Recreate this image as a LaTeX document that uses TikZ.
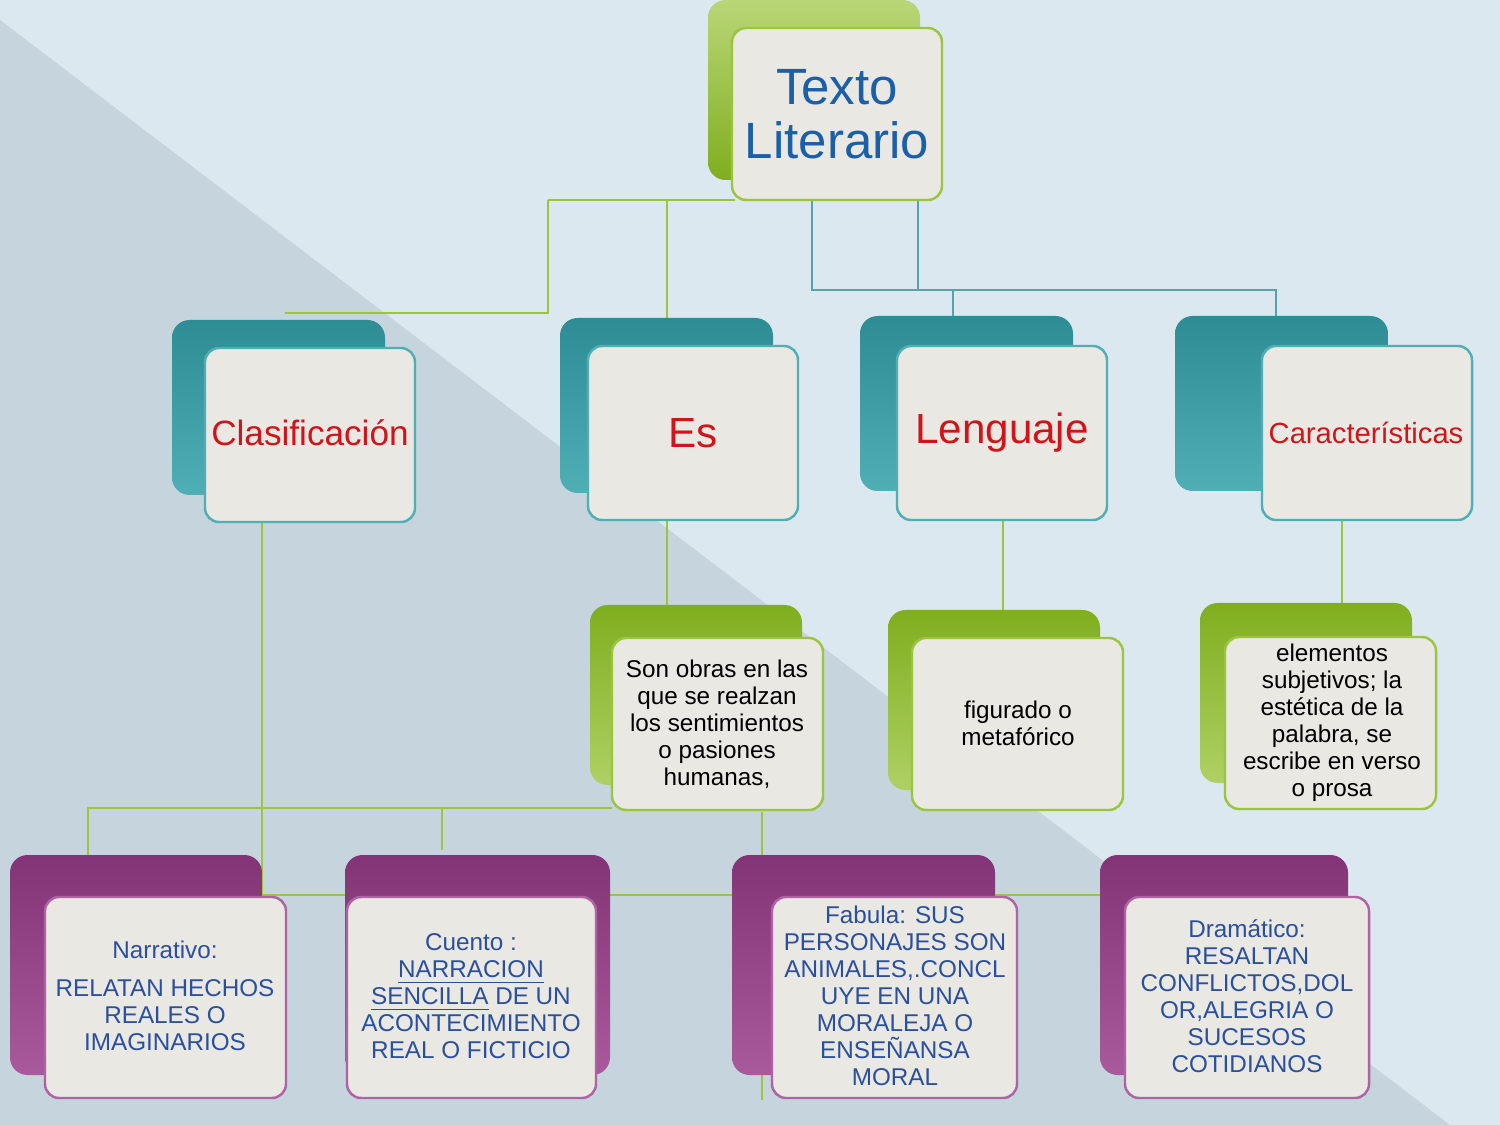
\documentclass[tikz,border=0pt]{standalone}
\usepackage{fontspec}
\setmainfont{Liberation Sans}
\newcommand{\myul}[1]{\underline{#1}}
\definecolor{bgA}{HTML}{DCE8F0}
\definecolor{bgB}{HTML}{C6D4DD}
\definecolor{gr}{HTML}{9BC53D}
\definecolor{grd}{HTML}{7FAE1E}
\definecolor{tl}{HTML}{2E8C94}
\definecolor{tll}{HTML}{4FAFB5}
\definecolor{pu}{HTML}{9A3D8C}
\definecolor{fr}{HTML}{E9E8E3}
\definecolor{tb}{HTML}{1A5FA8}
\definecolor{rd}{HTML}{D0141A}
\definecolor{bt}{HTML}{2A4F9C}
\tikzset{x=0.01cm,y=-0.01cm,
 backbox/.style={rounded corners=5pt,line width=0.3pt},
 frontbox/.style={fill=fr,rounded corners=4pt,line width=0.7pt},
 gline/.style={gr,line width=0.6pt},
 tline/.style={tl!80,line width=0.6pt},
 lbl/.style={align=center,inner sep=0pt},
 small/.style={font=\fontsize{6.9}{7.7}\selectfont}}
\begin{document}
\begin{tikzpicture}
\useasboundingbox (0,0) rectangle (1500,1125);
\fill[bgA] (0,0) rectangle (1500,1125);
\fill[bgB] (0,20) -- (1450,1125) -- (0,1125) -- cycle;
% connectors
\draw[gline] (548,200) -- (548,313) -- (285,313);
\draw[gline] (548,200) -- (735,200);
\draw[gline] (667,200) -- (667,346);
\draw[tline] (812,200) -- (812,290) -- (1276,290) -- (1276,346);
\draw[tline] (918,180) -- (918,290);
\draw[tline] (953,290) -- (953,346);
\draw[gline] (262,520) -- (262,897);
\draw[gline] (88,857) -- (88,808) -- (612,808);
\draw[gline] (442,808) -- (442,850);
\draw[gline] (762,812) -- (762,857);
\draw[gline] (262,895) -- (1125,895);
\draw[gline] (667,520) -- (667,605);
\draw[gline] (1003,520) -- (1003,610);
\draw[gline] (1342,520) -- (1342,603);
\draw[gline] (762,1075) -- (762,1100);
% top
\shade[backbox,top color=gr!70!white,bottom color=grd] (708,0) rectangle (920,180);
\draw[frontbox,draw=gr] (732,28) rectangle (942,200);
\node[lbl,text=tb,font=\fontsize{14.5}{15.5}\selectfont] at (837,114) {Texto\\Literario};
% row 2
\foreach \bx/\by/\fx/\fy in {172/320/205/348, 560/318/588/346, 860/316/897/346, 1175/316/1262/346}{
 \shade[backbox,top color=tl,bottom color=tll] (\bx,\by) rectangle (\bx+213,\by+175);
 \draw[frontbox,draw=tll] (\fx,\fy) rectangle (\fx+210,\fy+174);}
\node[lbl,text=rd,font=\fontsize{10}{12}\selectfont] at (310,433) {Clasificación};
\node[lbl,text=rd,font=\fontsize{12}{14}\selectfont] at (693,433) {Es};
\node[lbl,text=rd,font=\fontsize{12}{14}\selectfont] at (1002,433) {Lenguaje};
\node[lbl,text=rd,font=\fontsize{8.3}{10}\selectfont] at (1366,433) {Características};
% row 3
\foreach \bx/\by/\fx/\fy in {590/605/612/638, 888/610/912/638, 1200/603/1225/637}{
 \shade[backbox,top color=grd,bottom color=gr!80!white] (\bx,\by) rectangle (\bx+212,\by+180);
 \draw[frontbox,draw=gr] (\fx,\fy) rectangle (\fx+211,\fy+172);}
\node[lbl,small] at (717,724) {Son obras en las\\que se realzan\\los sentimientos\\o pasiones\\humanas,};
\node[lbl,small] at (1018,723) {figurado o\\metafórico};
\node[lbl,small] at (1332,723) {elementos\\subjetivos; la\\estética de la\\palabra, se\\escribe en verso\\o prosa};
% row 4
\foreach \bx/\bw/\fx/\fw in {10/252/45/241, 345/265/347/249, 732/263/772/245, 1100/248/1125/244}{
 \shade[backbox,top color=pu!85!black,bottom color=pu!85!white] (\bx,855) rectangle (\bx+\bw,1075);
 \draw[frontbox,draw=pu!80!white] (\fx,897) rectangle (\fx+\fw,1098);}
\node[lbl,small,text=bt] at (165,950) {Narrativo:};
\node[lbl,small,text=bt] at (165,1015) {RELATAN HECHOS\\REALES O\\IMAGINARIOS};
\node[lbl,small,text=bt] at (471,996) {Cuento :\\\myul{NARRACION}\\\myul{SENCILLA} DE UN\\ACONTECIMIENTO\\REAL O FICTICIO};
\node[lbl,small,text=bt] at (895,996) {Fabula: SUS\\PERSONAJES SON\\ANIMALES,.CONCL\\UYE EN UNA\\MORALEJA O\\ENSEÑANSA\\MORAL};
\node[lbl,small,text=bt] at (1247,996) {Dramático:\\RESALTAN\\CONFLICTOS,DOL\\OR,ALEGRIA O\\SUCESOS\\COTIDIANOS};
\end{tikzpicture}
\end{document}
